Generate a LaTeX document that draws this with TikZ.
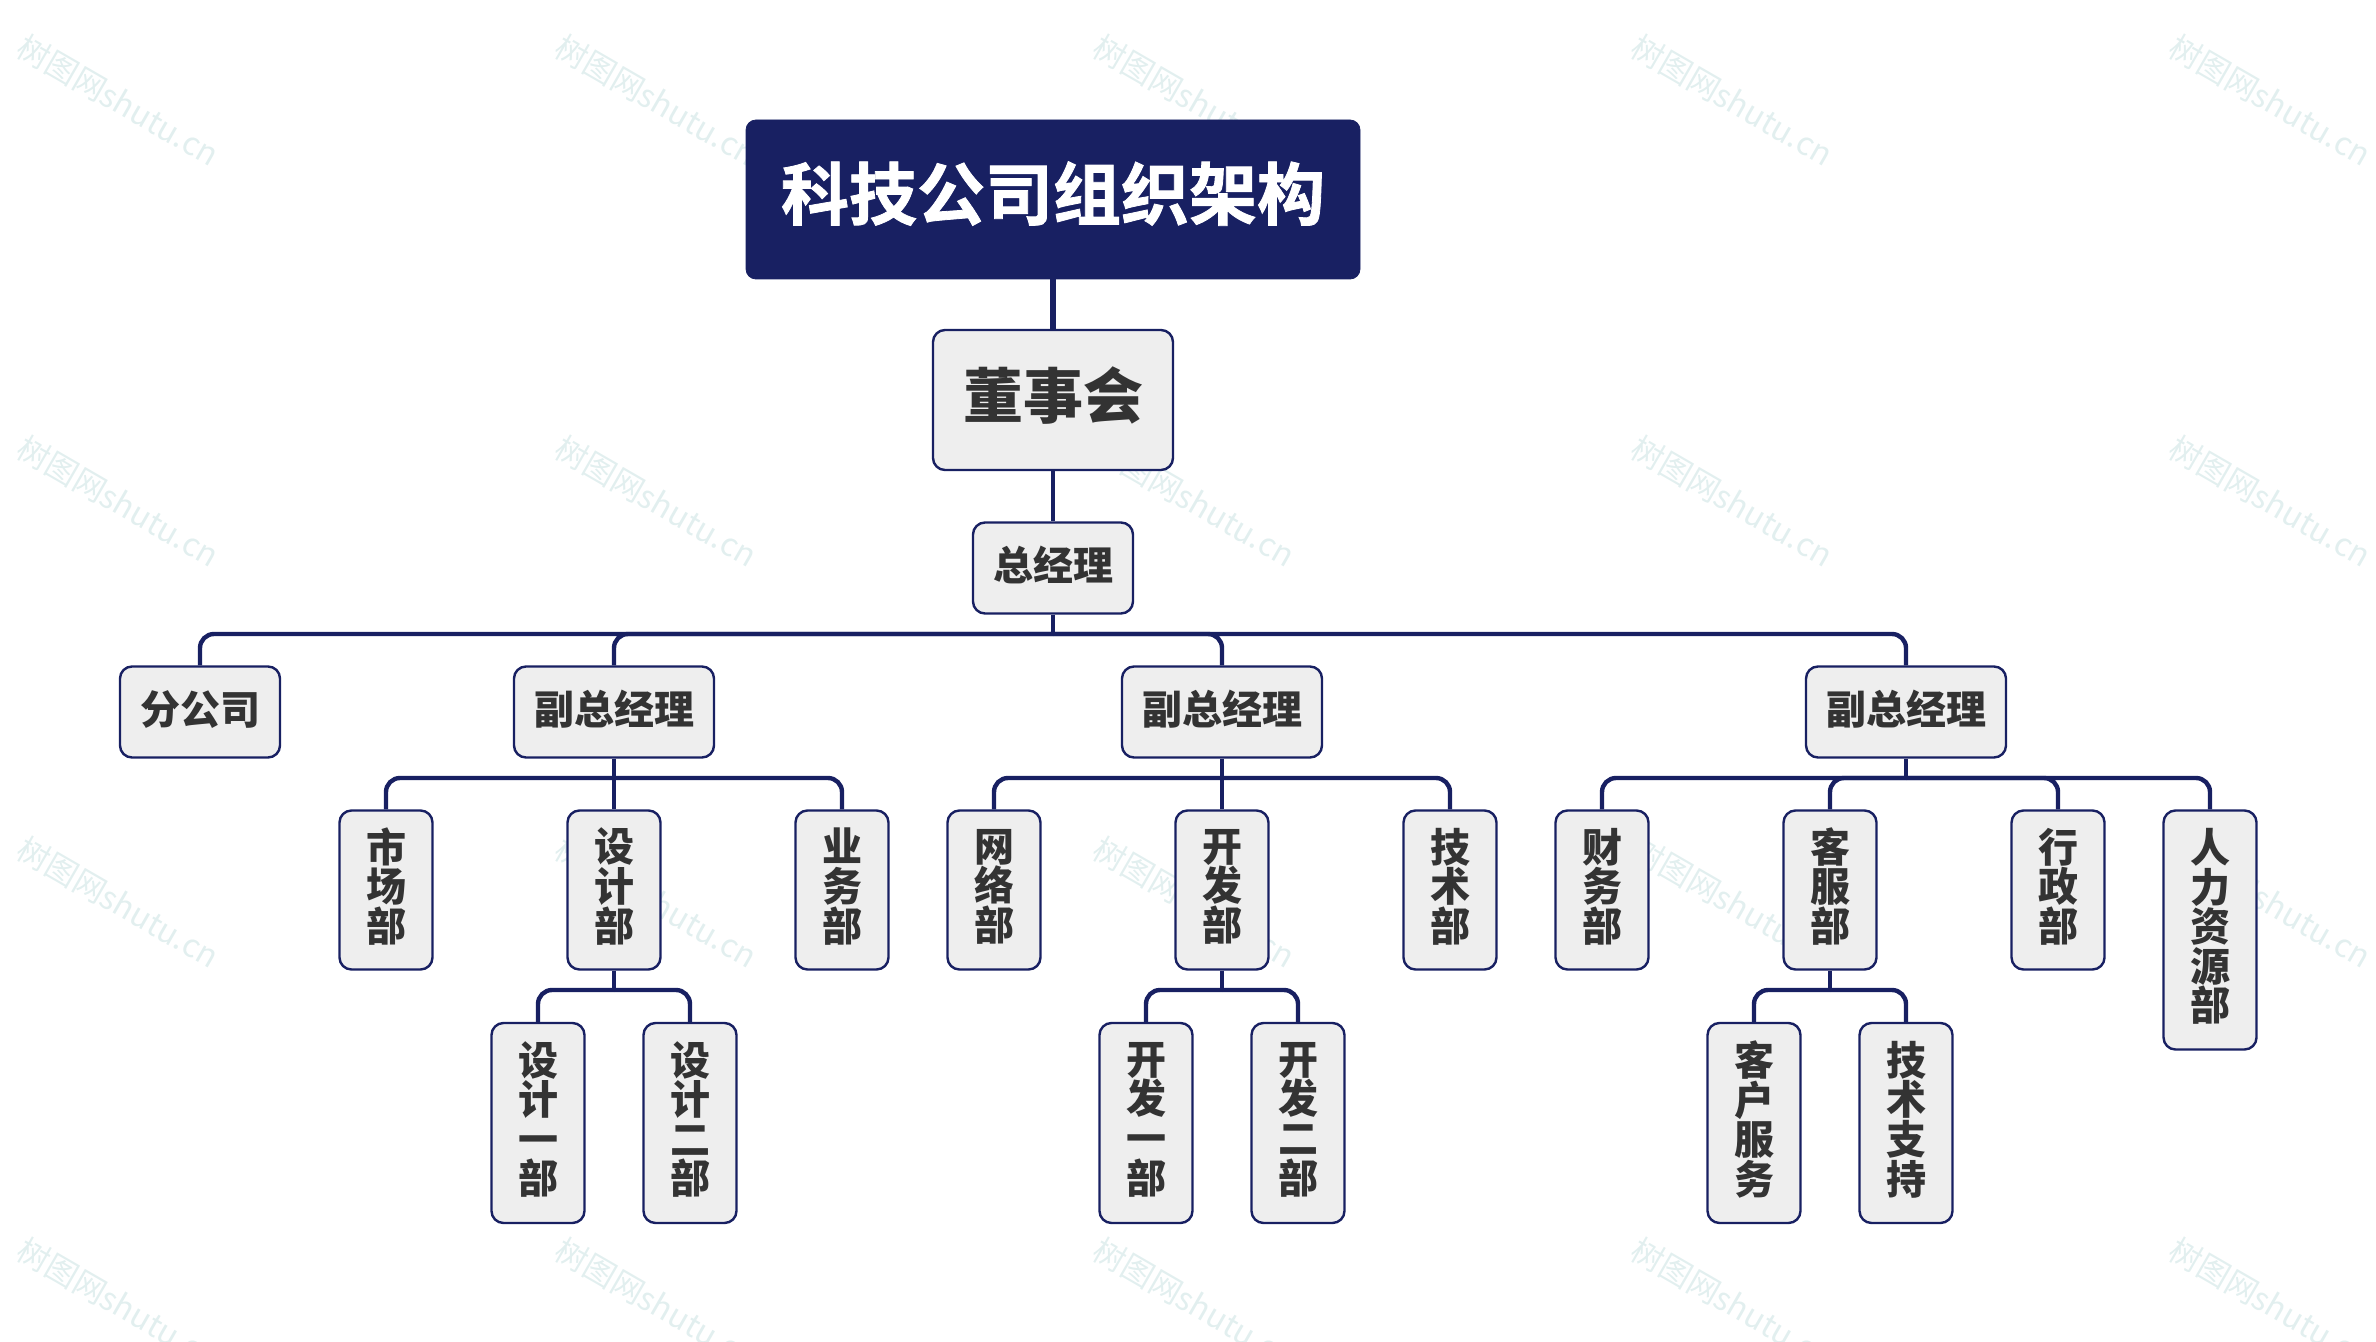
\documentclass[tikz,border=0pt]{standalone}
\usepackage{fontspec}
\setmainfont{Noto Sans CJK SC}
\newfontfamily\titlefont{Noto Sans CJK SC Bold}[FakeBold=1.2]
\usepackage{xcolor}
\usetikzlibrary{positioning}
\definecolor{navy}{HTML}{182062}
\definecolor{boxgray}{HTML}{EEEEEE}
\definecolor{inkgray}{HTML}{333333}
\definecolor{wmteal}{HTML}{E2EFEF}
\tikzset{
  wmark/.style={text=wmteal, rotate=-30, font=\fontsize{16}{16}\selectfont, inner sep=0pt},
  titlebox/.style={fill=navy, draw=navy, rounded corners=5pt, text=white, minimum width=307pt, minimum height=79.5pt, inner sep=0pt, text depth=9pt, font=\fontsize{34}{34}\titlefont},
  box/.style={fill=boxgray, draw=navy, line width=1.2pt, rounded corners=6pt, text=inkgray, inner sep=0pt, align=center, font=\fontsize{20}{19.8}\selectfont\bfseries},
  boardbox/.style={box, minimum width=120pt, minimum height=70pt, text depth=7pt, font=\fontsize{30}{30}\selectfont\bfseries},
  hbox/.style={box, minimum width=80pt, minimum height=45.5pt, text depth=4.8pt},
  vpbox/.style={box, minimum width=100pt, minimum height=45.5pt, text depth=4.8pt},
  dept/.style={box, minimum width=46.5pt, minimum height=79.5pt, text depth=5.4pt},
  longdept/.style={box, minimum width=46.5pt, minimum height=119.5pt, text depth=5.4pt},
  subdept/.style={box, minimum width=46.5pt, minimum height=100pt, text depth=5.4pt},
  stem/.style={draw=navy, line width=3pt},
  link/.style={draw=navy, line width=2.2pt},
  branch/.style={link, rounded corners=7pt}
}
\begin{document}
\begin{tikzpicture}[x=0.5pt, y=-0.5pt]
    \useasboundingbox (0,0) rectangle (2376,1342);
    % watermark
    \foreach \i in {0,...,4}
        \foreach \j in {0,...,3}
            \node[wmark] (wm\i\j) at (118.5+538*\i, 100+401*\j) {树图网shutu.cn};
    % top
    \node[titlebox] (title) at (1053,199.5) {科技公司组织架构};
    \node[boardbox] (board) at (1053,400) {董事会};
    \node[hbox] (gm) at (1053,568) {总经理};
    % second row
    \node[hbox] (branchco) at (200,712) {分公司};
    \node[vpbox] (vpa) at (614,712) {副总经理};
    \node[vpbox] (vpb) at (1222,712) {副总经理};
    \node[vpbox] (vpc) at (1906,712) {副总经理};
    % departments
    \node[dept] (market) at (386,890) {市\\场\\部};
    \node[dept] (design) at (614,890) {设\\计\\部};
    \node[dept] (business) at (842,890) {业\\务\\部};
    \node[dept] (network) at (994,890) {网\\络\\部};
    \node[dept] (devel) at (1222,890) {开\\发\\部};
    \node[dept] (tech) at (1450,890) {技\\术\\部};
    \node[dept] (finance) at (1602,890) {财\\务\\部};
    \node[dept] (service) at (1830,890) {客\\服\\部};
    \node[dept] (admin) at (2058,890) {行\\政\\部};
    \node[longdept] (hr) at (2210,930) {人\\力\\资\\源\\部};
    % sub departments
    \node[subdept] (designa) at (538,1123) {设\\计\\一\\部};
    \node[subdept] (designb) at (690,1123) {设\\计\\二\\部};
    \node[subdept] (devela) at (1146,1123) {开\\发\\一\\部};
    \node[subdept] (develb) at (1298,1123) {开\\发\\二\\部};
    \node[subdept] (custom) at (1754,1123) {客\\户\\服\\务};
    \node[subdept] (support) at (1906,1123) {技\\术\\支\\持};
    % bus points
    \coordinate (busgm) at (1053,634);
    \coordinate (busa) at (614,778);
    \coordinate (busb) at (1222,778);
    \coordinate (busc) at (1906,778);
    \coordinate (busd) at (614,990);
    \coordinate (buse) at (1222,990);
    \coordinate (busf) at (1830,990);
    % connectors
    \draw[stem] (title) -- (board);
    \draw[link] (board) -- (gm);
    \draw[link] (gm) -- (busgm);
    \foreach \kid in {branchco,vpa,vpb,vpc}
        \draw[branch] (busgm) -| (\kid.north);
    \draw[link] (vpa) -- (design);
    \draw[link] (vpb) -- (devel);
    \draw[link] (vpc) -- (busc);
    \foreach \kid in {market,business}
        \draw[branch] (busa) -| (\kid.north);
    \foreach \kid in {network,tech}
        \draw[branch] (busb) -| (\kid.north);
    \foreach \kid in {finance,service,admin,hr}
        \draw[branch] (busc) -| (\kid.north);
    \draw[link] (design) -- (busd);
    \draw[link] (devel) -- (buse);
    \draw[link] (service) -- (busf);
    \foreach \kid in {designa,designb}
        \draw[branch] (busd) -| (\kid.north);
    \foreach \kid in {devela,develb}
        \draw[branch] (buse) -| (\kid.north);
    \foreach \kid in {custom,support}
        \draw[branch] (busf) -| (\kid.north);
\end{tikzpicture}
\end{document}
